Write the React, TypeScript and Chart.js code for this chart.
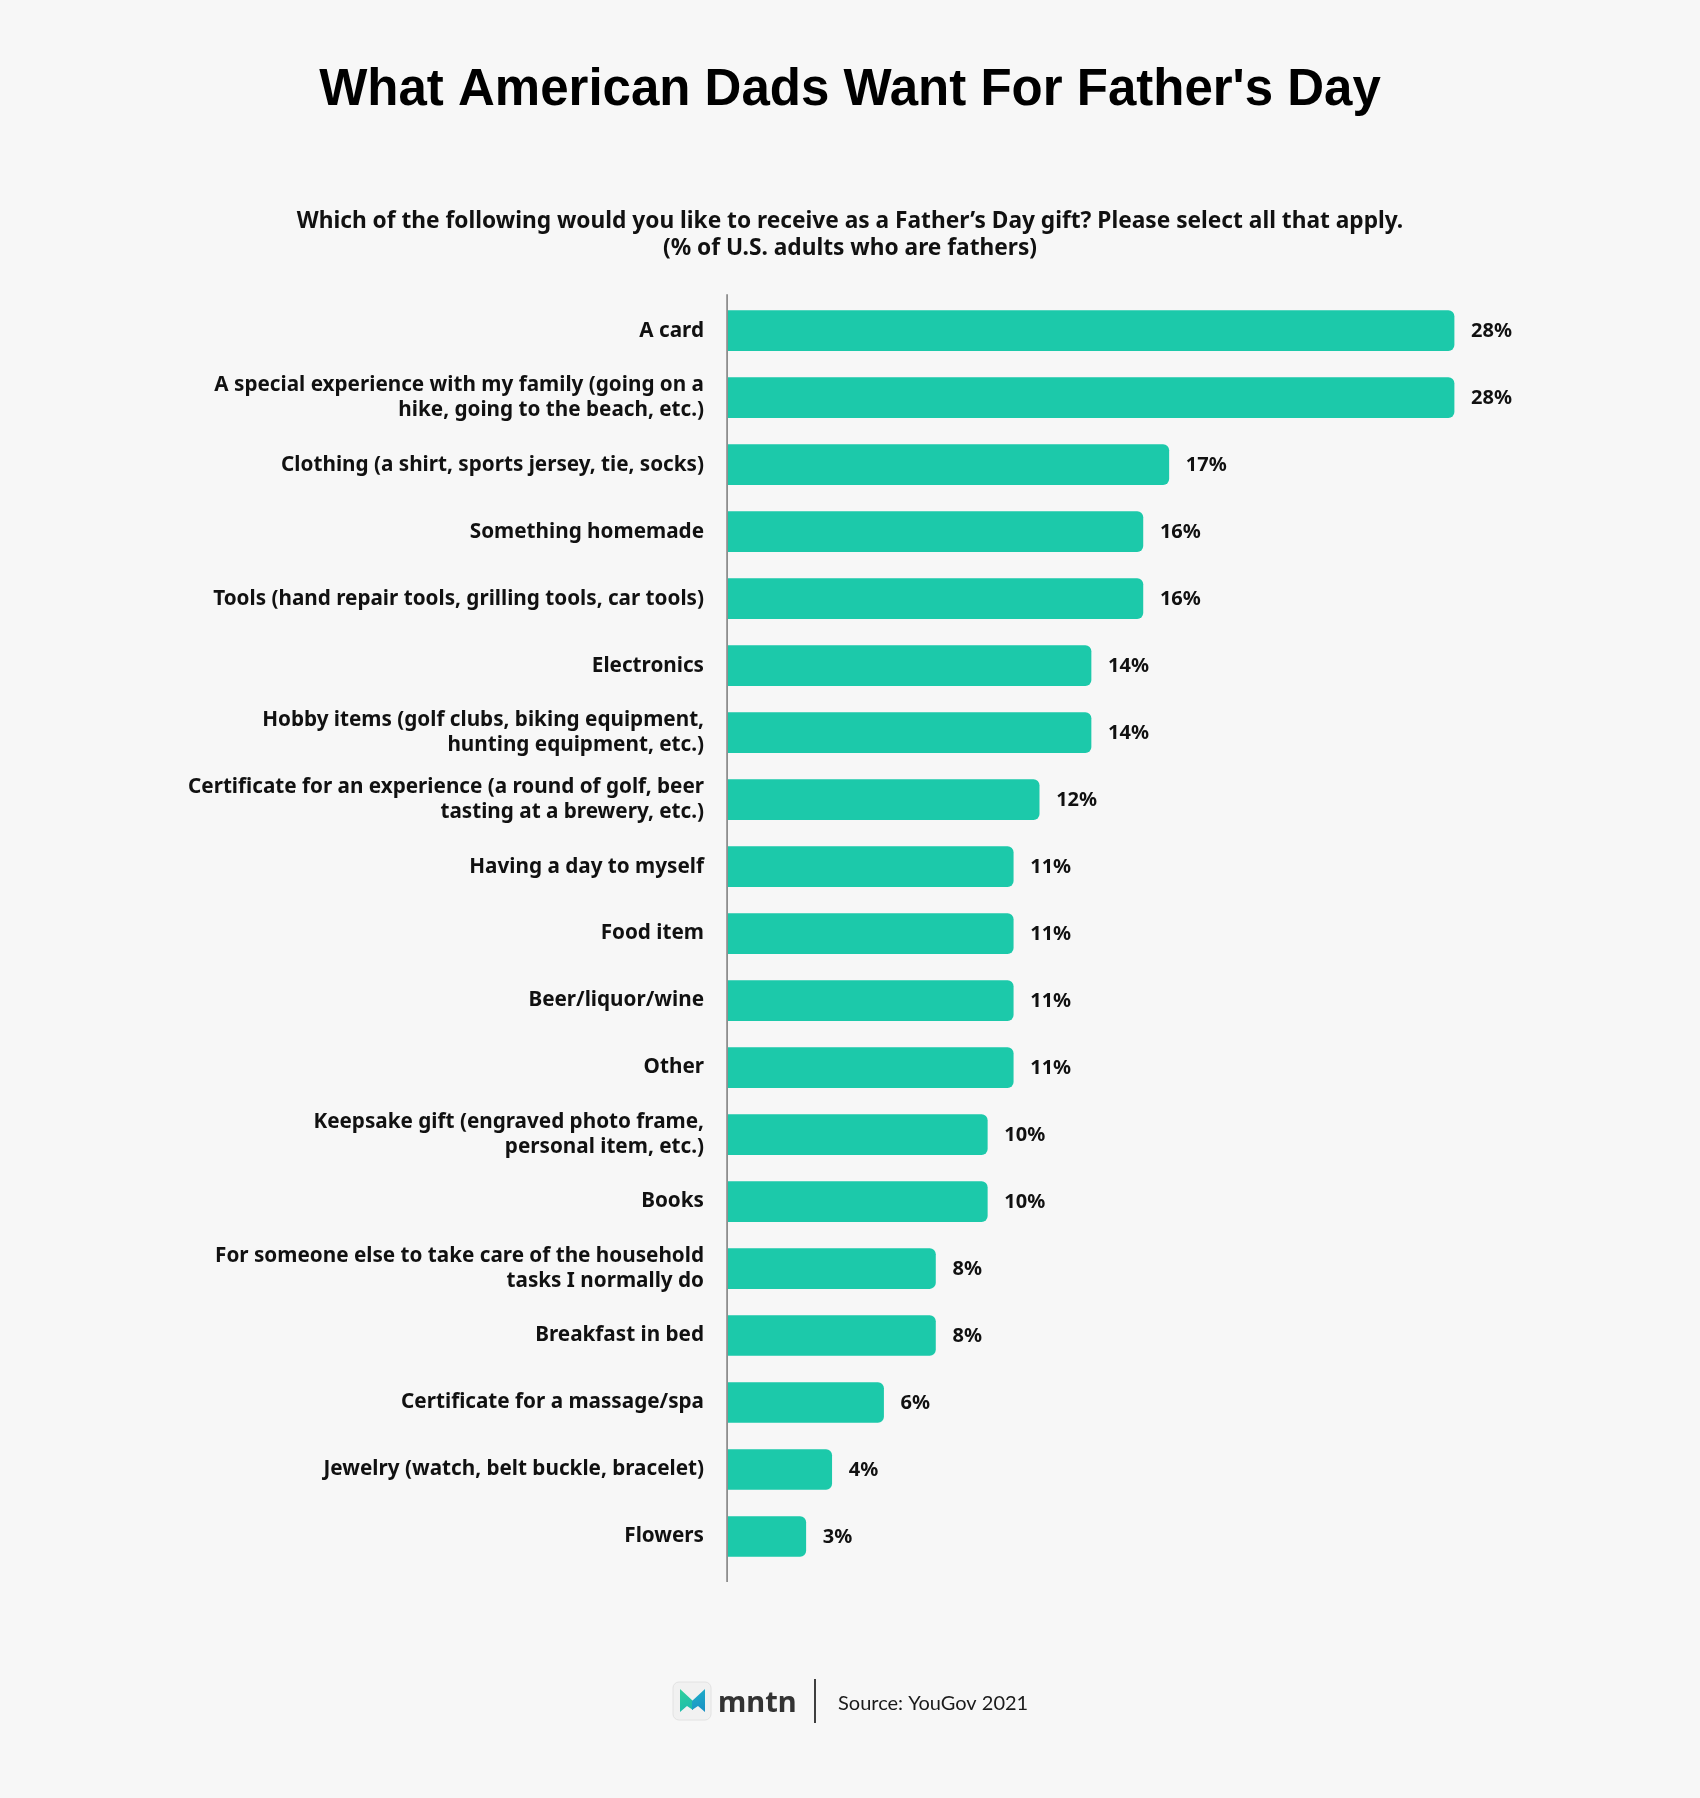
import { useEffect, useRef } from "react";
import { Chart, registerables } from "chart.js";

Chart.register(...registerables);

// Survey answers, top to bottom
const categories: (string | string[])[] = [
  "A card",
  ["A special experience with my family (going on a", "hike, going to the beach, etc.)"],
  "Clothing (a shirt, sports jersey, tie, socks)",
  "Something homemade",
  "Tools (hand repair tools, grilling tools, car tools)",
  "Electronics",
  ["Hobby items (golf clubs, biking equipment,", "hunting equipment, etc.)"],
  ["Certificate for an experience (a round of golf, beer", "tasting at a brewery, etc.)"],
  "Having a day to myself",
  "Food item",
  "Beer/liquor/wine",
  "Other",
  ["Keepsake gift (engraved photo frame,", "personal item, etc.)"],
  "Books",
  ["For someone else to take care of the household", "tasks I normally do"],
  "Breakfast in bed",
  "Certificate for a massage/spa",
  "Jewelry (watch, belt buckle, bracelet)",
  "Flowers",
];

// Percent of U.S. fathers choosing each gift
const shares = [28, 28, 17, 16, 16, 14, 14, 12, 11, 11, 11, 11, 10, 10, 8, 8, 6, 4, 3];

const titleText = "What American Dads Want For Father's Day";
const subtitleLines = [
  "Which of the following would you like to receive as a Father\u2019s Day gift? Please select all that apply.",
  "(% of U.S. adults who are fathers)",
];
const brandText = "mntn";
const sourceText = "Source: YouGov 2021";

const W = 1700;
const H = 1798;
const BG = "#f7f7f7";
const BAR = "#1cc9aa";
const INK = "#111111";
const LABEL_FONT = "'Noto Sans'";

const backgroundPlugin = {
  id: "pageBackground",
  beforeDraw(chart: Chart) {
    const { ctx } = chart;
    ctx.save();
    ctx.fillStyle = BG;
    ctx.fillRect(0, 0, chart.width, chart.height);
    ctx.restore();
  },
};

const axisLinePlugin = {
  id: "axisLine",
  afterDatasetsDraw(chart: Chart) {
    const { ctx, chartArea } = chart;
    ctx.save();
    ctx.strokeStyle = "#8e8e8e";
    ctx.lineWidth = 1.8;
    ctx.beginPath();
    ctx.moveTo(chartArea.left - 0.9, chartArea.top - 3);
    ctx.lineTo(chartArea.left - 0.9, chartArea.bottom + 12);
    ctx.stroke();
    ctx.restore();
  },
};

const valueLabelPlugin = {
  id: "valueLabels",
  afterDatasetsDraw(chart: Chart) {
    const { ctx } = chart;
    const meta = chart.getDatasetMeta(0);
    const values = chart.data.datasets[0].data as number[];
    ctx.save();
    ctx.fillStyle = INK;
    ctx.font = `700 20px ${LABEL_FONT}`;
    ctx.textAlign = "left";
    ctx.textBaseline = "middle";
    meta.data.forEach((el: any, i: number) => {
      ctx.fillText(`${values[i]}%`, el.x + 17, el.y + 1);
    });
    ctx.restore();
  },
};

const footerPlugin = {
  id: "footer",
  afterDraw(chart: Chart) {
    const { ctx } = chart;
    ctx.save();
    // logo tile
    const bx = 673, by = 1682, bs = 38;
    ctx.beginPath();
    ctx.roundRect(bx, by, bs, bs, 6);
    ctx.fillStyle = "#f1f1f1";
    ctx.fill();
    ctx.strokeStyle = "#e2e2e2";
    ctx.lineWidth = 1;
    ctx.stroke();
    // logo mark: left and right halves of the "M"
    const g1 = ctx.createLinearGradient(680, 1689, 693, 1712);
    g1.addColorStop(0, "#2fd19a");
    g1.addColorStop(1, "#1cb8b0");
    ctx.fillStyle = g1;
    ctx.beginPath();
    ctx.moveTo(680, 1689);
    ctx.lineTo(693, 1701);
    ctx.lineTo(693, 1710);
    ctx.lineTo(687, 1706);
    ctx.lineTo(680, 1712);
    ctx.closePath();
    ctx.fill();
    const g2 = ctx.createLinearGradient(692, 1689, 705, 1712);
    g2.addColorStop(0, "#1fb2c9");
    g2.addColorStop(1, "#1a8fc4");
    ctx.fillStyle = g2;
    ctx.beginPath();
    ctx.moveTo(705, 1689);
    ctx.lineTo(705, 1712);
    ctx.lineTo(698, 1706);
    ctx.lineTo(692, 1710);
    ctx.lineTo(692, 1701);
    ctx.closePath();
    ctx.fill();
    // brand word
    ctx.fillStyle = "#333333";
    ctx.font = "700 29px 'Noto Sans'";
    ctx.textAlign = "left";
    ctx.textBaseline = "alphabetic";
    ctx.fillText(brandText, 718, 1712);
    // divider
    ctx.strokeStyle = "#111111";
    ctx.lineWidth = 1.6;
    ctx.beginPath();
    ctx.moveTo(815, 1679);
    ctx.lineTo(815, 1723);
    ctx.stroke();
    // source note
    ctx.fillStyle = "#1a1a1a";
    ctx.font = "400 20px Lato";
    ctx.fillText(sourceText, 838, 1710);
    ctx.restore();
  },
};

export default function App() {
  const canvasRef = useRef<HTMLCanvasElement | null>(null);

  useEffect(() => {
    const canvas = canvasRef.current;
    if (!canvas) return;
    const chart = new Chart(canvas, {
      type: "bar",
      data: {
        labels: categories,
        datasets: [
          {
            data: shares,
            backgroundColor: BAR,
            borderWidth: 0,
            borderRadius: 6,
            borderSkipped: "start",
            barThickness: 40,
          },
        ],
      },
      options: {
        indexAxis: "y",
        responsive: false,
        animation: false,
        devicePixelRatio: 1,
        layout: { padding: { left: 150, right: 150, top: 0, bottom: 228 } },
        plugins: {
          legend: { display: false },
          tooltip: { enabled: false },
          title: {
            display: true,
            text: titleText,
            color: "#000000",
            font: { family: "'Liberation Sans'", weight: "bold", size: 51, lineHeight: 1.2 },
            padding: { top: 60, bottom: 0 },
          },
          subtitle: {
            display: true,
            text: subtitleLines,
            color: INK,
            font: { family: LABEL_FONT, weight: "bold", size: 22.7, lineHeight: "27px" },
            padding: { top: 87, bottom: 35 },
          },
        },
        scales: {
          x: { display: false, min: 0, max: 31.7 },
          y: {
            afterFit(scale: any) {
              scale.width = 578;
            },
            grid: { display: false, drawTicks: false },
            border: { display: false },
            ticks: {
              autoSkip: false,
              padding: 24,
              color: INK,
              font: { family: LABEL_FONT, weight: "bold", size: 20.7, lineHeight: "25px" },
            },
          },
        },
      },
      plugins: [backgroundPlugin, axisLinePlugin, valueLabelPlugin, footerPlugin],
    } as any);
    return () => chart.destroy();
  }, []);

  return (
    <div style={{ position: "absolute", left: 0, top: 0, width: W, height: H, background: BG }}>
      <canvas ref={canvasRef} width={W} height={H} style={{ display: "block", width: W, height: H }} />
    </div>
  );
}
